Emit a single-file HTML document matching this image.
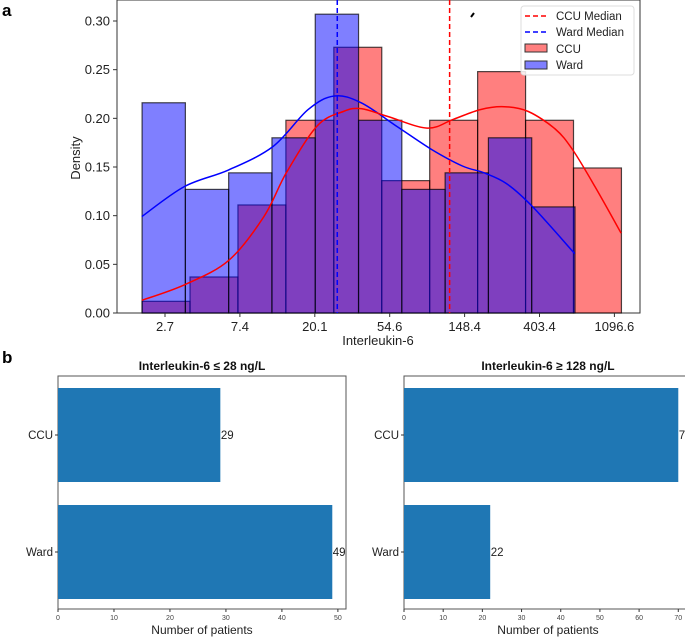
<!DOCTYPE html>
<html><head><meta charset="utf-8"><style>
body{margin:0;background:#fff;width:685px;height:637px;overflow:hidden}
svg{font-family:"Liberation Sans",sans-serif}
</style></head><body>
<svg id="s" width="685" height="637" viewBox="0 0 685 637"></svg>
<script>
const ticksLn=[1,2,3,4,5,6,7];
const tickLabels=["2.7","7.4","20.1","54.6","148.4","403.4","1096.6"];
const yTicks=[0,0.05,0.10,0.15,0.20,0.25,0.30];
const ccuStart=0.694, ccuWidth=0.64;
const ccuHeights=[0.012,0.037,0.111,0.198,0.273,0.136,0.198,0.248,0.198,0.149];
const wardStart=0.694, wardWidth=0.578;
const wardHeights=[0.216,0.127,0.144,0.180,0.307,0.198,0.127,0.144,0.180,0.109];
const wardKdeX=[0.69,1.26,1.85,2.44,2.91,3.26,3.62,4.09,4.56,4.97,5.26,5.56,5.91,6.47];
const wardKdeY=[0.099,0.130,0.147,0.171,0.209,0.223,0.216,0.192,0.168,0.151,0.144,0.133,0.109,0.061];
const ccuKdeX=[0.69,1.26,1.85,2.32,2.62,3.03,3.38,3.62,3.97,4.50,4.85,5.21,5.53,5.85,6.21,6.44,6.74,7.09];
const ccuKdeY=[0.013,0.029,0.054,0.099,0.144,0.192,0.207,0.210,0.202,0.190,0.199,0.209,0.212,0.207,0.189,0.168,0.130,0.082];
const ccuMedianLn=4.80, wardMedianLn=3.30;
const barCats=["CCU","Ward"];
const lowVals=[29,49];
const highVals=[70,22];
const lowTicks=[0,10,20,30,40,50];
const highTicks=[0,10,20,30,40,50,60,70];

const S=document.getElementById('s');
const NS='http://www.w3.org/2000/svg';
function mk(t,a,txt){const e=document.createElementNS(NS,t);for(const k in a)e.setAttribute(k,a[k]);if(txt!==undefined)e.textContent=txt;S.appendChild(e);return e;}

const L=117,R=640,T=0,B=313;
const xs=v=>165+(v-1)*74.9;
const ys=v=>B-v*973.3;
mk('rect',{x:L,y:T,width:R-L,height:B-T,fill:'none',stroke:'#333','stroke-width':1,});
ccuHeights.forEach((h,i)=>{
 const e=mk('rect',{x:xs(ccuStart+i*ccuWidth),y:ys(h),width:ccuWidth*74.9,height:B-ys(h),fill:'rgba(255,0,0,0.5)',stroke:'rgba(0,0,0,0.7)','stroke-width':1.2});
 
 
});
wardHeights.forEach((h,i)=>{
 const e=mk('rect',{x:xs(wardStart+i*wardWidth),y:ys(h),width:wardWidth*74.9,height:B-ys(h),fill:'rgba(0,0,255,0.5)',stroke:'rgba(0,0,0,0.7)','stroke-width':1.2});
 
 
});
function curve(X,Y,c,n){
 const P=X.map((x,i)=>[xs(x),ys(Y[i])]);
 let d='M'+P[0][0].toFixed(1)+' '+P[0][1].toFixed(1);
 for(let i=0;i<P.length-1;i++){
  const p0=P[Math.max(0,i-1)],p1=P[i],p2=P[i+1],p3=P[Math.min(P.length-1,i+2)];
  const c1=[p1[0]+(p2[0]-p0[0])/6,p1[1]+(p2[1]-p0[1])/6];
  const c2=[p2[0]-(p3[0]-p1[0])/6,p2[1]-(p3[1]-p1[1])/6];
  d+='C'+c1.map(v=>v.toFixed(1)).join(' ')+' '+c2.map(v=>v.toFixed(1)).join(' ')+' '+p2[0].toFixed(1)+' '+p2[1].toFixed(1);
 }
 const e=mk('path',{d:d,fill:'none',stroke:c,'stroke-width':1.5,'stroke-linejoin':'round'});
 }
curve(wardKdeX,wardKdeY,'#0000ff','ward-kde');
curve(ccuKdeX,ccuKdeY,'#ff0000','ccu-kde');
mk('line',{x1:xs(ccuMedianLn),x2:xs(ccuMedianLn),y1:T,y2:B,stroke:'#ff0000','stroke-width':1.5,'stroke-dasharray':'5,3',});
mk('line',{x1:xs(wardMedianLn),x2:xs(wardMedianLn),y1:T,y2:B,stroke:'#0000ff','stroke-width':1.5,'stroke-dasharray':'5,3',});
yTicks.forEach(v=>{const y=ys(v);mk('line',{x1:L-4,x2:L,y1:y,y2:y,stroke:'#333'});
 const t=mk('text',{x:L-7,y:y+4.5,'text-anchor':'end','font-size':13,fill:'#222'},v.toFixed(2));
 });
ticksLn.forEach((v,i)=>{const x=xs(v);mk('line',{x1:x,x2:x,y1:B,y2:B+4,stroke:'#333'});
 const t=mk('text',{x:x,y:B+18,'text-anchor':'middle','font-size':13,fill:'#222'},tickLabels[i]);
 });
mk('text',{x:80,y:158,'text-anchor':'middle','font-size':13,fill:'#222',transform:'rotate(-90 80 158)',},'Density');
mk('text',{x:378,y:345,'text-anchor':'middle','font-size':13,fill:'#222',},'Interleukin-6');
mk('text',{x:2,y:16,'font-size':17,'font-weight':'bold',fill:'#000',},'a');
mk('rect',{x:521,y:6,width:113,height:69,rx:3,fill:'#fff','fill-opacity':0.85,stroke:'#ddd',});
mk('line',{x1:525,x2:547,y1:16,y2:16,stroke:'#f00','stroke-width':1.5,'stroke-dasharray':'5,3'});
mk('text',{x:556,y:20,'font-size':11.5,fill:'#222',},'CCU Median');
mk('line',{x1:525,x2:547,y1:32,y2:32,stroke:'#00f','stroke-width':1.5,'stroke-dasharray':'5,3'});
mk('text',{x:556,y:36,'font-size':11.5,fill:'#222',},'Ward Median');
mk('rect',{x:525,y:44,width:22,height:8,fill:'rgba(255,0,0,0.5)',stroke:'#333'});
mk('text',{x:556,y:53,'font-size':11.5,fill:'#222',},'CCU');
mk('rect',{x:525,y:61,width:22,height:8,fill:'rgba(0,0,255,0.5)',stroke:'#333'});
mk('text',{x:556,y:69,'font-size':11.5,fill:'#222',},'Ward');
mk('path',{d:'M471 17 L474 13',stroke:'#000','stroke-width':2});

mk('text',{x:2,y:363,'font-size':17,'font-weight':'bold',fill:'#000',},'b');
function barChart(x0,x1,xmax,vals,ticks,title,name){
 const top=376,bot=609;
 const sx=v=>x0+v*(x1-x0)/xmax;
 mk('rect',{x:x0,y:top,width:x1-x0,height:bot-top,fill:'none',stroke:'#555','stroke-width':1,});
 const cy=[435,552];
 vals.forEach((v,i)=>{
  const e=mk('rect',{x:x0,y:cy[i]-47,width:sx(v)-x0,height:94,fill:'#1f77b4'});
  
  
  const t=mk('text',{x:sx(v)+0.5,y:cy[i]+4,'font-size':11.5,fill:'#222'},String(v));
  
  mk('line',{x1:x0-3,x2:x0,y1:cy[i],y2:cy[i],stroke:'#333'});
  const c=mk('text',{x:x0-5,y:cy[i]+4,'text-anchor':'end','font-size':11.5,fill:'#222'},barCats[i]);
  
 });
 ticks.forEach(v=>{const x=sx(v);mk('line',{x1:x,x2:x,y1:bot,y2:bot+3,stroke:'#333'});
  const t=mk('text',{x:x,y:bot+11,'text-anchor':'middle','font-size':7,fill:'#444'},String(v));
  });
 mk('text',{x:(x0+x1)/2,y:634,'text-anchor':'middle','font-size':12,fill:'#222',},'Number of patients');
 mk('text',{x:(x0+x1)/2,y:370,'text-anchor':'middle','font-size':12,'font-weight':'bold',fill:'#111',},title);
}
barChart(58,346,51.45,lowVals,lowTicks,'Interleukin-6 \u2264 28 ng/L','low-il6');
barChart(404,692,73.5,highVals,highTicks,'Interleukin-6 \u2265 128 ng/L','high-il6');
</script>
</body></html>
